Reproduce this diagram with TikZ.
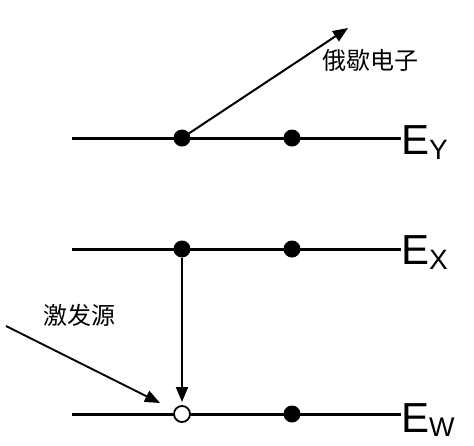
\documentclass[tikz,border=0pt]{standalone}
\usepackage{fontspec}
\setmainfont{Liberation Sans}
\newfontfamily\cjk{Noto Sans CJK SC}
\usetikzlibrary{arrows.meta}
\begin{document}
\begin{tikzpicture}[x=1pt,y=-1pt,
  level/.style={line width=3pt},
  fdot/.style={circle,fill=black,inner sep=0pt,minimum size=17pt},
  odot/.style={circle,draw=black,fill=white,line width=1.8pt,inner sep=0pt,minimum size=16pt},
  arr/.style={line width=2pt,-{Triangle[length=15pt,width=12pt]}},
  elab/.style={anchor=base west,inner sep=0pt,font=\fontsize{42}{42}\selectfont},
  cjklab/.style={inner sep=0pt,font=\cjk\fontsize{24}{24}\selectfont}]
\useasboundingbox (0,0) rectangle (474,445);
% levels
\coordinate (ys) at (72,138); \coordinate (ye) at (401,138);
\coordinate (xs) at (72,249); \coordinate (xe) at (401,249);
\coordinate (ws) at (72,414); \coordinate (we) at (401,414);
\draw[level] (ys) -- (ye);
\draw[level] (xs) -- (xe);
\draw[level] (ws) -- (we);
\node[fdot] (y1) at (182,138) {};
\node[fdot] (y2) at (292,138) {};
\node[fdot] (x1) at (182,249) {};
\node[fdot] (x2) at (292,249) {};
\node[odot] (w1) at (182,414) {};
\node[fdot] (w2) at (292,414) {};
% labels
\node[elab] (ly) at (401,154) {E\raisebox{-5pt}{\fontsize{28}{28}\selectfont Y}};
\node[elab] (lx) at (401,264) {E\raisebox{-5pt}{\fontsize{28}{28}\selectfont X}};
\node[elab] (lw) at (401,432) {E\raisebox{-4pt}{\fontsize{27}{27}\selectfont W}};
% arrows
\coordinate (ae) at (348,28);
\draw[arr] (y1.center) -- (ae);
\node[cjklab] (auger) at (370,60) {俄歇电子};
\draw[arr] (x1) -- (182,402);
\coordinate (ss) at (6,326);
\draw[arr] (ss) -- (160,403);
\node[cjklab] (src) at (79,315) {激发源};
\end{tikzpicture}
\end{document}
